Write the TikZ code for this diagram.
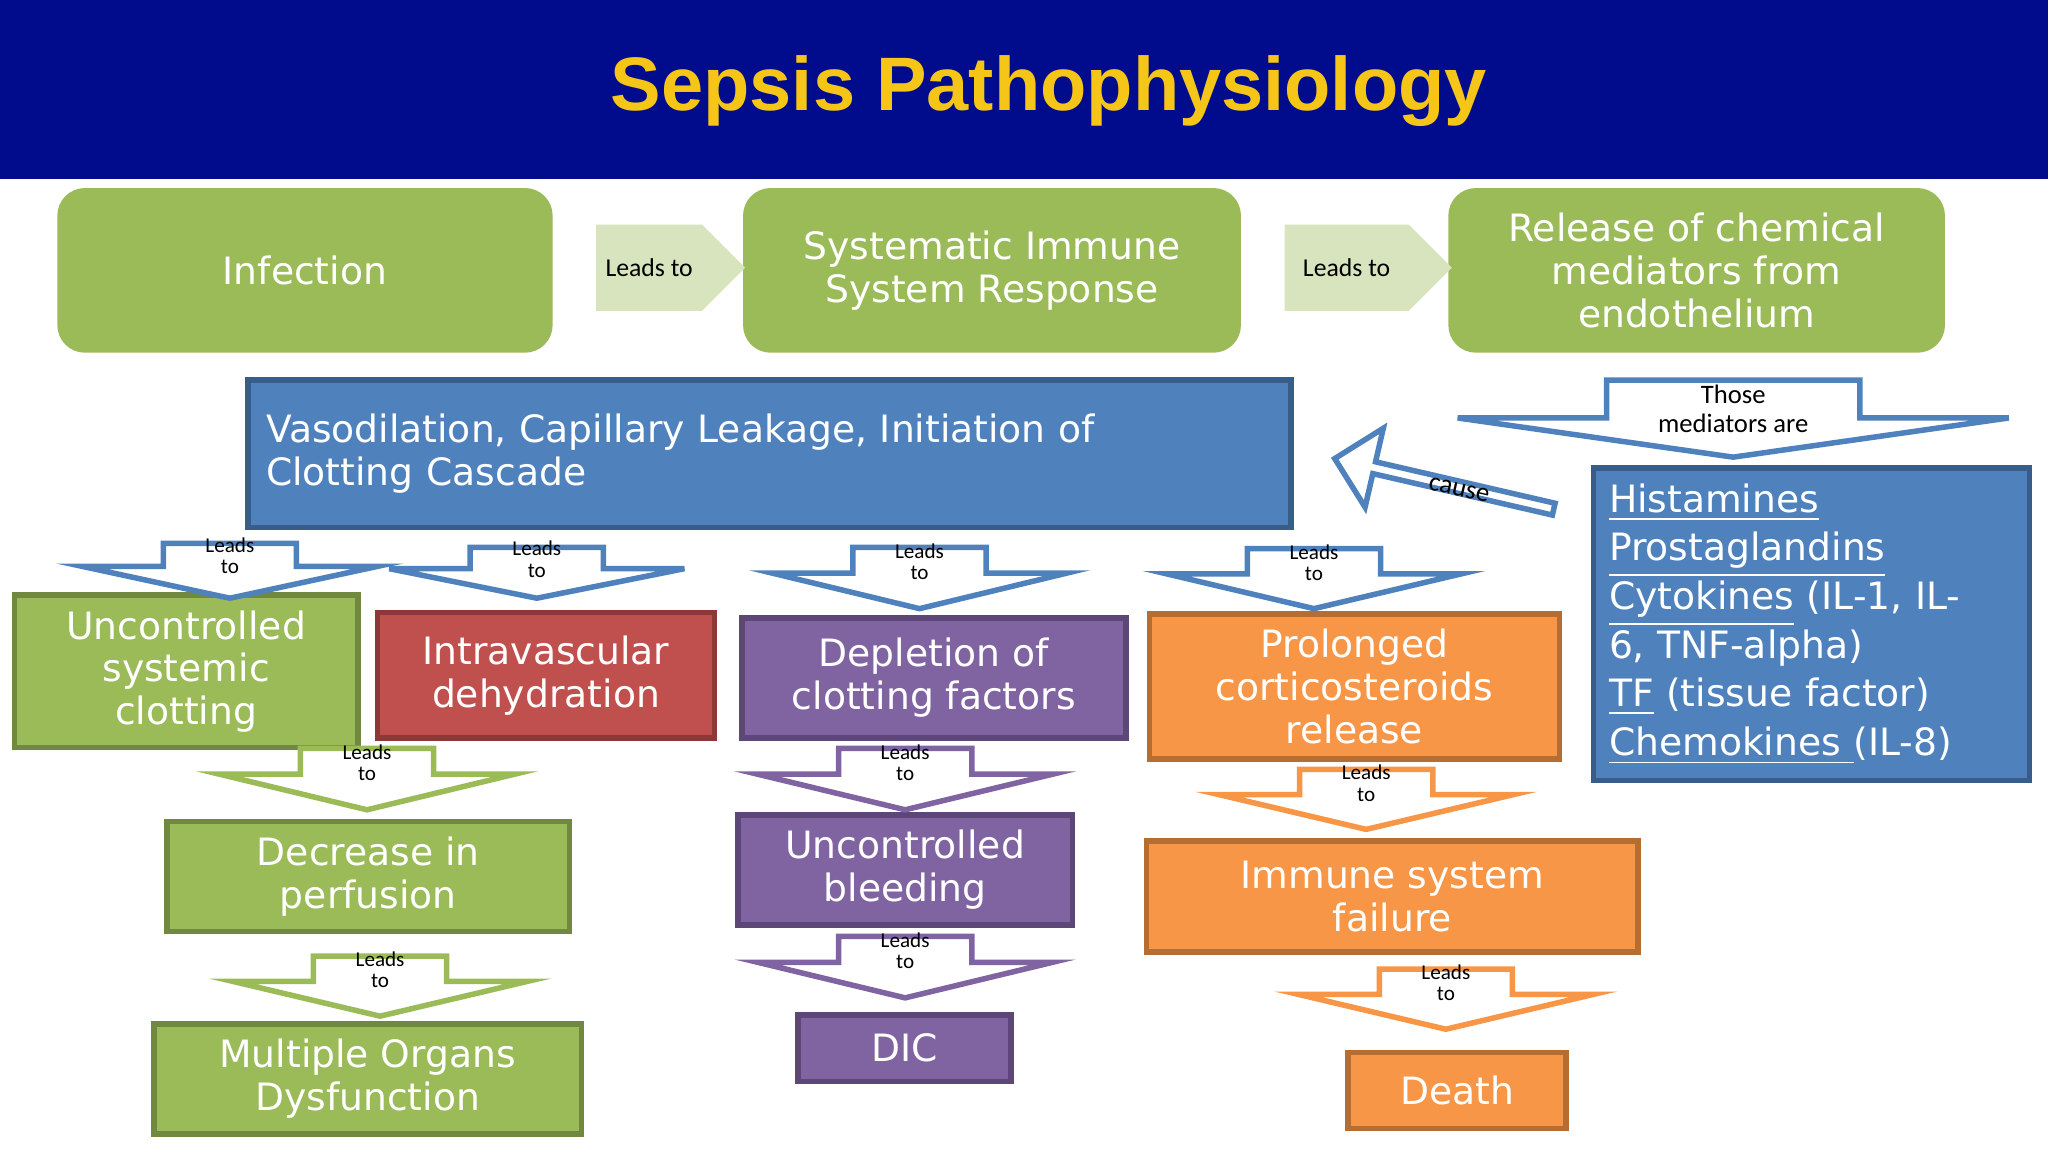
\documentclass[tikz,border=0pt]{standalone}
\usepackage{fontspec}
\setmainfont{DejaVu Sans}
\newfontfamily\titlefont{Liberation Sans}
\newfontfamily\smallfont{Carlito}
\usetikzlibrary{shapes.arrows}
\definecolor{navy}{HTML}{000C8C}
\definecolor{gold}{HTML}{F5C518}
\definecolor{grn}{HTML}{9BBB59}\definecolor{grnd}{HTML}{71893F}
\definecolor{lgrn}{HTML}{D7E4BD}
\definecolor{blu}{HTML}{4F81BD}\definecolor{blud}{HTML}{385D8A}
\definecolor{rd}{HTML}{C0504D}\definecolor{rdd}{HTML}{8C3836}
\definecolor{pur}{HTML}{8064A2}\definecolor{purd}{HTML}{5C4776}
\definecolor{org}{HTML}{F79646}\definecolor{orgd}{HTML}{B66D31}
\tikzset{
 txt/.style={text=white,font=\fontsize{8.2}{9.3}\selectfont,align=center},
 topbox/.style={txt,fill=grn,draw=none,rounded corners=6pt},
 cbox/.style={txt,line width=1.2pt},
 lead/.style={font=\smallfont\fontsize{4.6}{4.6}\selectfont,align=center,inner sep=0pt},
}
% \darr{cx}{top}{tip}{color}{name}
\newcommand{\darr}[5]{%
 \pgfmathsetmacro{\sb}{#2+0.42*(#3-#2)}%
 \draw[#4,line width=1.2pt,fill=white,line join=miter]
  ({#1-51},#2)--({#1+51},#2)--({#1+51},\sb)--({#1+113},\sb)--(#1,#3)--({#1-113},\sb)--({#1-51},\sb)--cycle;
 \node[lead] (#5) at (#1,{(#2+\sb)/2+1}) {Leads\\to};}
\begin{document}
\begin{tikzpicture}[x=0.01cm,y=-0.01cm]
\useasboundingbox (0,0) rectangle (1568,882);
\fill[navy] (0,0) rectangle (1568,137);
\node[text=gold,font=\titlefont\bfseries\fontsize{16.5}{18}\selectfont] (title) at (803,70) {Sepsis Pathophysiology};
% top row
\node[topbox,minimum width=3.79cm,minimum height=1.26cm] (inf) at (233.5,207) {Infection};
\node[topbox,minimum width=3.81cm,minimum height=1.26cm] (sys) at (759.5,207) {Systematic Immune\\System Response};
\node[topbox,minimum width=3.80cm,minimum height=1.26cm] (rel) at (1299,207) {Release of chemical\\mediators from\\endothelium};
\node[single arrow,fill=lgrn,minimum height=1.14cm,minimum width=0.66cm,single arrow head extend=0pt,inner sep=0pt,font=\smallfont\fontsize{5.6}{6}\selectfont] (l1) at (497,205) {Leads to\hspace{0.25cm}};
\node[single arrow,fill=lgrn,minimum height=1.28cm,minimum width=0.66cm,single arrow head extend=0pt,inner sep=0pt,font=\smallfont\fontsize{5.6}{6}\selectfont] (l2) at (1031,205) {Leads to\hspace{0.35cm}};
% blue boxes
\node[cbox,fill=blu,draw=blud,minimum width=7.98cm,minimum height=1.13cm,align=left,text width=7.7cm] (vaso) at (589,347.5) {Vasodilation, Capillary Leakage, Initiation of\\Clotting Cascade};
\node[cbox,fill=blu,draw=blud,minimum width=3.22cm,minimum height=2.32cm,align=left,text width=3.1cm,font=\fontsize{8.2}{10.6}\selectfont] (list) at (1387,478) {\underline{Histamines}\\\underline{Prostaglandins}\\\underline{Cytokines} (IL-1, IL-\\6, TNF-alpha)\\\underline{TF} (tissue factor)\\\underline{Chemokines }(IL-8)};
% mediators arrow
\draw[blu,line width=1.2pt,fill=white] (1230,291)--(1424,291)--(1424,320)--(1538,320)--(1327,350)--(1116,320)--(1230,320)--cycle;
\node[font=\smallfont\fontsize{5.8}{6.5}\selectfont,align=center] (med) at (1327,313) {Those\\mediators are};
\node[single arrow,draw=blu,line width=1.2pt,fill=white,rotate=167,minimum height=1.72cm,minimum width=0.62cm,single arrow head extend=0.12cm,inner sep=0pt] (cz) at (1108,371) {};
\node[rotate=-13,font=\smallfont\fontsize{5.8}{6}\selectfont] (czt) at (1117,375) {cause};
% row of boxes
\node[cbox,fill=grn,draw=grnd,minimum width=2.63cm,minimum height=1.0cm] (ucl) at (142.5,514) {Uncontrolled\\systemic\\clotting};
\node[cbox,fill=rd,draw=rdd,minimum width=2.58cm,minimum height=0.96cm] (intra) at (418,517) {Intravascular\\dehydration};
\node[cbox,fill=pur,draw=purd,minimum width=2.94cm,minimum height=0.92cm] (dep) at (715,519) {Depletion of\\clotting factors};
\node[cbox,fill=org,draw=orgd,minimum width=3.14cm,minimum height=1.05cm] (pro) at (1037,525.5) {Prolonged\\corticosteroids\\release};
\node[cbox,fill=grn,draw=grnd,minimum width=3.08cm,minimum height=0.82cm] (dec) at (282,671) {Decrease in\\perfusion};
\node[cbox,fill=pur,draw=purd,minimum width=2.56cm,minimum height=0.72cm] (ubl) at (693,666) {Uncontrolled\\bleeding};
\node[cbox,fill=org,draw=orgd,minimum width=3.76cm,minimum height=0.85cm] (isf) at (1066,686.5) {Immune system\\failure};
\node[cbox,fill=grn,draw=grnd,minimum width=3.27cm,minimum height=0.76cm] (mod) at (281.5,826) {Multiple Organs\\Dysfunction};
\node[cbox,fill=pur,draw=purd,minimum width=1.63cm,minimum height=0.51cm] (dic) at (692.5,802.5) {DIC};
\node[cbox,fill=org,draw=orgd,minimum width=1.67cm,minimum height=0.58cm] (death) at (1115.5,835) {Death};
% leads-to arrows
\darr{176}{416}{458}{blu}{a1}
\darr{411}{419}{458}{blu}{a2}
\darr{704}{419}{466}{blu}{a3}
\darr{1006}{420}{466}{blu}{a4}
\darr{281}{573}{620}{grn}{a5}
\darr{693}{573}{620}{pur}{a6}
\darr{291}{732}{778}{grn}{a7}
\darr{693}{717}{764}{pur}{a8}
\darr{1046}{589}{635}{org}{a9}
\darr{1107}{742}{788}{org}{a10}
\end{tikzpicture}
\end{document}
